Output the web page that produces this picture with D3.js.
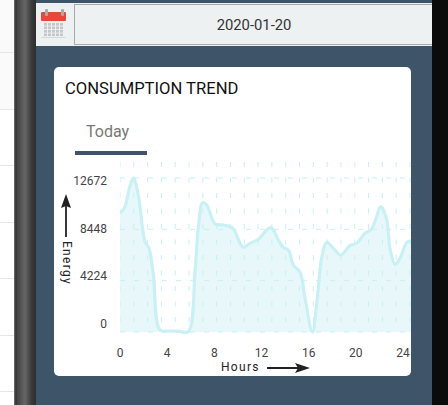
<!DOCTYPE html>
<html><head><meta charset="utf-8">
<script src="https://cdn.jsdelivr.net/npm/d3@7"></script>
<style>html,body{margin:0;padding:0;background:#fff;overflow:hidden}svg{display:block}text{font-family:Roboto,sans-serif}</style>
</head><body><svg id="c" width="448" height="405"></svg>
<script>
const hours=[0,.42,.79,1.13,1.55,2.12,2.46,2.83,3.39,4.24,5.0,5.8,6.36,6.64,7.01,7.35,8.06,8.76,9.47,9.75,10.18,10.46,11.03,11.73,12.78,13.43,13.85,14.28,14.7,15.27,15.69,16.31,16.73,17.1,17.53,18.09,18.72,19.5,20.07,20.78,21.35,22.14,22.62,22.9,23.32,23.75,24.32,24.68];
const energy=[9765,10300,11820,12672,11275,7430,6885,4690,165,80,60,30,4965,8530,10645,10450,8890,8805,8615,8255,7300,6970,7300,7630,8585,7570,6940,6750,5515,4910,2770,0,2770,6065,7380,6885,6335,7105,7300,8120,8480,10310,9215,6885,5570,6065,7380,7490];
const xTicks=[0,4,8,12,16,20,24];
const yTicks=[0,4224,8448,12672];
const vGrid=d3.range(0,22);
const sideRows=[52,109,165,222,278,335,391];
const title="CONSUMPTION TREND",tab="Today",dateLabel="2020-01-20";

const svg=d3.select("#c");
const x=d3.scaleLinear().domain([0,24]).range([120,403]);
const y=d3.scaleLinear().domain([0,12672]).range([332,178]);
const yLab=d3.scaleLinear().domain([0,12672]).range([324,181]);
const vx=d3.scaleLinear().domain([0,21]).range([120,410]);

// page behind
svg.append("rect").attr("x",0).attr("y",0).attr("width",14).attr("height",405).attr("fill","#fff");
svg.append("rect").attr("x",0).attr("y",0).attr("width",14).attr("height",109).attr("fill","#fafafa");
svg.selectAll(".row").data(sideRows).join("rect").attr("x",0).attr("y",d=>d).attr("width",14).attr("height",1).attr("fill","#e6e6ea");
const defs=svg.append("defs");
const g=defs.append("linearGradient").attr("id","bez");
[[0,"#777"],[.08,"#333"],[.16,"#444"],[.5,"#666"],[.8,"#3a3a3a"],[1,"#2e2e2e"]].forEach(s=>g.append("stop").attr("offset",s[0]).attr("stop-color",s[1]));
svg.append("rect").attr("x",14).attr("y",0).attr("width",22).attr("height",405).attr("fill","url(#bez)");
svg.append("rect").attr("x",36).attr("y",0).attr("width",396).attr("height",405).attr("fill","#3d5469");

// header
svg.append("rect").attr("x",36).attr("y",3).attr("width",396).attr("height",43).attr("fill","#eef1f2");
svg.append("rect").attr("x",74.5).attr("y",4.5).attr("width",370).attr("height",40).attr("fill","#eef1f2").attr("stroke","#a9a9a9");
svg.append("rect").attr("x",432).attr("y",0).attr("width",16).attr("height",405).attr("fill","#0b0b0b");
svg.append("text").attr("x",254).attr("y",30).attr("text-anchor","middle").attr("font-size",14.8).attr("fill","#333").text(dateLabel);

// calendar icon
const ic=svg.append("g");
ic.append("path").attr("d","M41 35H66V37Q66 38 64 38H43Q41 38 41 37Z").attr("fill","#d5dadb");
ic.append("rect").attr("x",41).attr("y",22).attr("width",25).attr("height",15).attr("fill","#eef0f1");
ic.append("rect").attr("x",41).attr("y",12).attr("width",25).attr("height",9).attr("rx",1).attr("fill","#e8483c");
[45,61].forEach(a=>ic.append("rect").attr("x",a).attr("y",9).attr("width",3).attr("height",7).attr("rx",1).attr("fill","#a9aaa9"));
d3.range(4).forEach(r=>d3.range(5).forEach(c=>ic.append("rect").attr("x",44+c*4).attr("y",23+r*3.5).attr("width",3).attr("height",2.6).attr("fill","#c3c7ca")));

// card
svg.append("rect").attr("x",54).attr("y",67).attr("width",357).attr("height",309).attr("rx",5).attr("fill","#fff");
svg.append("text").attr("x",65).attr("y",94).attr("font-size",16.6).attr("fill","#111").text(title);
svg.append("text").attr("x",86).attr("y",137).attr("font-size",16).attr("fill","#777").text(tab);
svg.append("rect").attr("x",75).attr("y",151).attr("width",72).attr("height",4).attr("fill","#40526f");

// chart
defs.append("clipPath").attr("id","pl").append("rect").attr("x",120).attr("y",155).attr("width",291).attr("height",180);
const p=svg.append("g").attr("clip-path","url(#pl)");
const pts=hours.map((h,i)=>[h,energy[i]]);
const curve=d3.curveCatmullRom.alpha(0.5);
p.append("path").attr("d",d3.area().x(d=>x(d[0])).y0(y(0)).y1(d=>y(Math.max(0,d[1]))).curve(curve)(pts)).attr("fill","#e8f8fa");
p.selectAll(".v").data(vGrid).join("line").attr("x1",d=>vx(d)).attr("x2",d=>vx(d)).attr("y1",162).attr("y2",332)
 .attr("stroke","#c6f0f4").attr("stroke-width",1).attr("stroke-dasharray","5 10.5");
p.selectAll(".h").data(yTicks).join("line").attr("x1",120).attr("x2",411).attr("y1",d=>y(d)).attr("y2",d=>y(d))
 .attr("stroke","#c6f0f4").attr("stroke-width",1).attr("stroke-dasharray","5 9");
p.append("path").attr("d",d3.line().x(d=>x(d[0])).y(d=>y(d[1])).curve(curve)(pts)).attr("fill","none").attr("stroke","#c9f1f5").attr("stroke-width",3.2);

svg.selectAll(".xt").data(xTicks).join("text").attr("x",d=>x(d)).attr("y",357).attr("text-anchor","middle").attr("font-size",12).attr("fill","#444").text(d=>d);
svg.selectAll(".yt").data(yTicks).join("text").attr("x",107).attr("y",d=>yLab(d)+4).attr("text-anchor","end").attr("font-size",12).attr("fill","#444").text(d=>d);

// axis names
svg.append("text").attr("x",221).attr("y",371).attr("font-size",12).attr("letter-spacing",1.3).attr("fill","#222").text("Hours");
svg.append("line").attr("x1",267).attr("x2",300).attr("y1",368).attr("y2",368).attr("stroke","#222").attr("stroke-width",1.8);
svg.append("path").attr("d","M310 368L295 363L298 368L295 373Z").attr("fill","#222");
svg.append("text").attr("transform","translate(63,241) rotate(90)").attr("font-size",12).attr("letter-spacing",1.3).attr("fill","#222").text("Energy");
svg.append("line").attr("x1",66).attr("x2",66).attr("y1",237).attr("y2",205).attr("stroke","#222").attr("stroke-width",1.8);
svg.append("path").attr("d","M66 194L61 208L66 206L71 208Z").attr("fill","#222");
</script></body></html>
